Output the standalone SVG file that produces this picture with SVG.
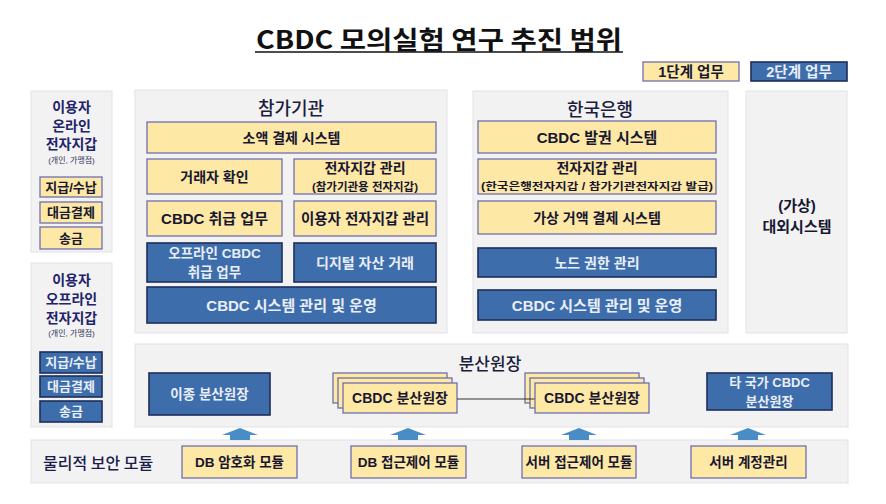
<svg xmlns="http://www.w3.org/2000/svg" width="886" height="504" viewBox="0 0 886 504">
<style>
text{font-family:"Liberation Sans","Noto Sans CJK KR",sans-serif;text-anchor:middle;dominant-baseline:central}
.panel{fill:#f2f2f2;stroke:#e2e2ea;stroke-width:1}
.y{fill:#fde8a6;stroke:#6f6fae;stroke-width:1.3}
.b{fill:#3e6dab;stroke:#1d2d5c;stroke-width:1.6}
.ty{font-weight:bold;font-size:14px;fill:#17172f}
.tb{font-weight:bold;font-size:14px;fill:#e9eef8}
.pt{font-family:"Noto Sans CJK KR",sans-serif;font-size:18px;fill:#1c1c3c;font-weight:500}
.lt{font-weight:bold;font-size:14px;fill:#23236a}
.sm{font-size:8px;fill:#33335a}
.arr{fill:#4a8cc6}
.ln{stroke:#333;stroke-width:1;fill:none}
</style>
<defs>
<polygon id="arrow" points="0,0 18,7 10,7 10,12 -10,12 -10,7 -18,7"/>
</defs>
<rect width="886" height="504" fill="#ffffff"/>

<g id="title">
<text x="439" y="38" style="font-family:'Noto Sans CJK KR',sans-serif;font-weight:bold;font-size:25px;fill:#111" textLength="366" lengthAdjust="spacingAndGlyphs">CBDC 모의실험 연구 추진 범위</text>
<line x1="255" y1="52" x2="623" y2="52" stroke="#111" stroke-width="1.6"/>
</g>

<g id="legend">
<rect class="y" x="643" y="62" width="96" height="19"/>
<text class="ty" x="691" y="71.5" style="font-size:14.5px">1단계 업무</text>
<rect class="b" x="751" y="62" width="96" height="19"/>
<text class="tb" x="799" y="71.5" style="font-size:14.5px">2단계 업무</text>
</g>

<g id="online-wallet">
<rect class="panel" x="31" y="91" width="81" height="161"/>
<text class="lt" x="71.5" y="107">이용자</text>
<text class="lt" x="71.5" y="126">온라인</text>
<text class="lt" x="71.5" y="144">전자지갑</text>
<text class="sm" x="71.5" y="160">(개인, 가맹점)</text>
<rect class="y" x="40" y="177" width="62" height="20"/>
<text class="ty" x="71" y="187" style="font-size:13px">지급/수납</text>
<rect class="y" x="40" y="202" width="62" height="21"/>
<text class="ty" x="71" y="212.5" style="font-size:13px">대금결제</text>
<rect class="y" x="40" y="227" width="62" height="22"/>
<text class="ty" x="71" y="238" style="font-size:13px">송금</text>
</g>

<g id="offline-wallet">
<rect class="panel" x="31" y="263" width="81" height="164"/>
<text class="lt" x="71.5" y="280">이용자</text>
<text class="lt" x="71.5" y="299">오프라인</text>
<text class="lt" x="71.5" y="318">전자지갑</text>
<text class="sm" x="71.5" y="333">(개인, 가맹점)</text>
<rect class="b" x="40" y="352" width="62" height="21"/>
<text class="tb" x="71" y="362.5" style="font-size:13px">지급/수납</text>
<rect class="b" x="40" y="376" width="62" height="21"/>
<text class="tb" x="71" y="386.5" style="font-size:13px">대금결제</text>
<rect class="b" x="40" y="401" width="62" height="21"/>
<text class="tb" x="71" y="411.5" style="font-size:13px">송금</text>
</g>

<g id="participants">
<rect class="panel" x="135" y="90" width="312" height="243"/>
<text class="pt" x="291" y="107">참가기관</text>
<rect class="y" x="147" y="122" width="289" height="31"/>
<text class="ty" x="291.5" y="137.5">소액 결제 시스템</text>
<rect class="y" x="147" y="159" width="135" height="35"/>
<text class="ty" x="214.5" y="176.5">거래자 확인</text>
<rect class="y" x="294" y="159" width="142" height="35"/>
<text class="ty" x="365" y="168">전자지갑 관리</text>
<text class="ty" x="365" y="186.5" style="font-size:11.5px">(참가기관용 전자지갑)</text>
<rect class="y" x="147" y="201" width="135" height="35"/>
<text class="ty" x="214.5" y="218.5" style="font-size:15px">CBDC 취급 업무</text>
<rect class="y" x="294" y="201" width="142" height="35"/>
<text class="ty" x="365" y="218.5" style="font-size:14.5px">이용자 전자지갑 관리</text>
<rect class="b" x="147" y="243" width="135" height="39"/>
<text class="tb" x="214.5" y="253" style="font-size:13.5px">오프라인 CBDC</text>
<text class="tb" x="214.5" y="272.5" style="font-size:13.5px">취급 업무</text>
<rect class="b" x="294" y="243" width="142" height="39"/>
<text class="tb" x="365" y="262.5">디지털 자산 거래</text>
<rect class="b" x="147" y="287" width="289" height="36"/>
<text class="tb" x="291.5" y="305" style="font-size:15px">CBDC 시스템 관리 및 운영</text>
</g>

<g id="bok">
<rect class="panel" x="473" y="91" width="255" height="242"/>
<text class="pt" x="600" y="108">한국은행</text>
<rect class="y" x="478" y="121" width="238" height="32"/>
<text class="ty" x="597" y="137" style="font-size:15px">CBDC 발권 시스템</text>
<rect class="y" x="478" y="159" width="238" height="35"/>
<text class="ty" x="597" y="168">전자지갑 관리</text>
<text class="ty" x="597" y="186" style="font-size:10px" textLength="232" lengthAdjust="spacingAndGlyphs">(한국은행전자지갑 / 참가기관전자지갑 발급)</text>
<rect class="y" x="478" y="201" width="238" height="33"/>
<text class="ty" x="597" y="217.5">가상 거액 결제 시스템</text>
<rect class="b" x="478" y="248" width="238" height="29"/>
<text class="tb" x="597" y="262.5">노드 권한 관리</text>
<rect class="b" x="478" y="290" width="238" height="30"/>
<text class="tb" x="597" y="305" style="font-size:15px">CBDC 시스템 관리 및 운영</text>
</g>

<g id="external">
<rect class="panel" x="746" y="91" width="101" height="242"/>
<text class="ty" x="797" y="205" style="font-size:15px">(가상)</text>
<text class="ty" x="797" y="226" style="font-size:15px">대외시스템</text>
</g>

<g id="ledger">
<rect class="panel" x="135" y="344" width="713" height="83"/>
<text class="pt" x="490" y="362" style="font-size:17px">분산원장</text>
</g>

<g id="hetero-ledger">
<rect class="b" x="149" y="373" width="121" height="42"/>
<text class="tb" x="209.5" y="394" style="font-size:13.5px">이종 분산원장</text>
</g>

<g id="cbdc-ledger-1">
<rect class="y" x="333" y="373" width="114" height="30"/>
<rect class="y" x="338" y="378" width="114" height="30"/>
<rect class="y" x="343" y="383" width="114" height="30"/>
<text class="ty" x="400" y="398">CBDC 분산원장</text>
</g>

<g id="cbdc-ledger-2">
<rect class="y" x="525" y="373" width="114" height="30"/>
<rect class="y" x="530" y="378" width="114" height="30"/>
<line class="ln" x1="457" y1="399" x2="535" y2="399"/>
<rect class="y" x="535" y="383" width="114" height="30"/>
<text class="ty" x="592" y="398">CBDC 분산원장</text>
</g>

<g id="foreign-ledger">
<rect class="b" x="707" y="373" width="125" height="37"/>
<text class="tb" x="769.5" y="382" style="font-size:13px">타 국가 CBDC</text>
<text class="tb" x="769.5" y="401" style="font-size:13px">분산원장</text>
</g>

<g id="security">
<rect class="panel" x="31" y="440" width="817" height="43"/>
<text x="43" y="462" style="text-anchor:start;font-family:'Noto Sans CJK KR',sans-serif;font-size:16px;font-weight:500;fill:#1c1c4a">물리적 보안 모듈</text>
</g>

<g id="db-encrypt">
<rect class="y" x="182" y="446" width="115" height="32"/>
<text class="ty" x="239.5" y="462" style="font-size:13.5px">DB 암호화 모듈</text>
</g>
<g id="db-access">
<rect class="y" x="351" y="446" width="115" height="32"/>
<text class="ty" x="408.5" y="462" style="font-size:13.5px">DB 접근제어 모듈</text>
</g>
<g id="server-access">
<rect class="y" x="522" y="446" width="114" height="32"/>
<text class="ty" x="579" y="462" style="font-size:13.5px">서버 접근제어 모듈</text>
</g>
<g id="server-account">
<rect class="y" x="691" y="446" width="115" height="32"/>
<text class="ty" x="748.5" y="462" style="font-size:13.5px">서버 계정관리</text>
</g>

<g id="connectors">
<use href="#arrow" class="arr" x="240" y="428"/>
<use href="#arrow" class="arr" x="408" y="428"/>
<use href="#arrow" class="arr" x="579" y="428"/>
<use href="#arrow" class="arr" x="748" y="428"/>
</g>
</svg>
